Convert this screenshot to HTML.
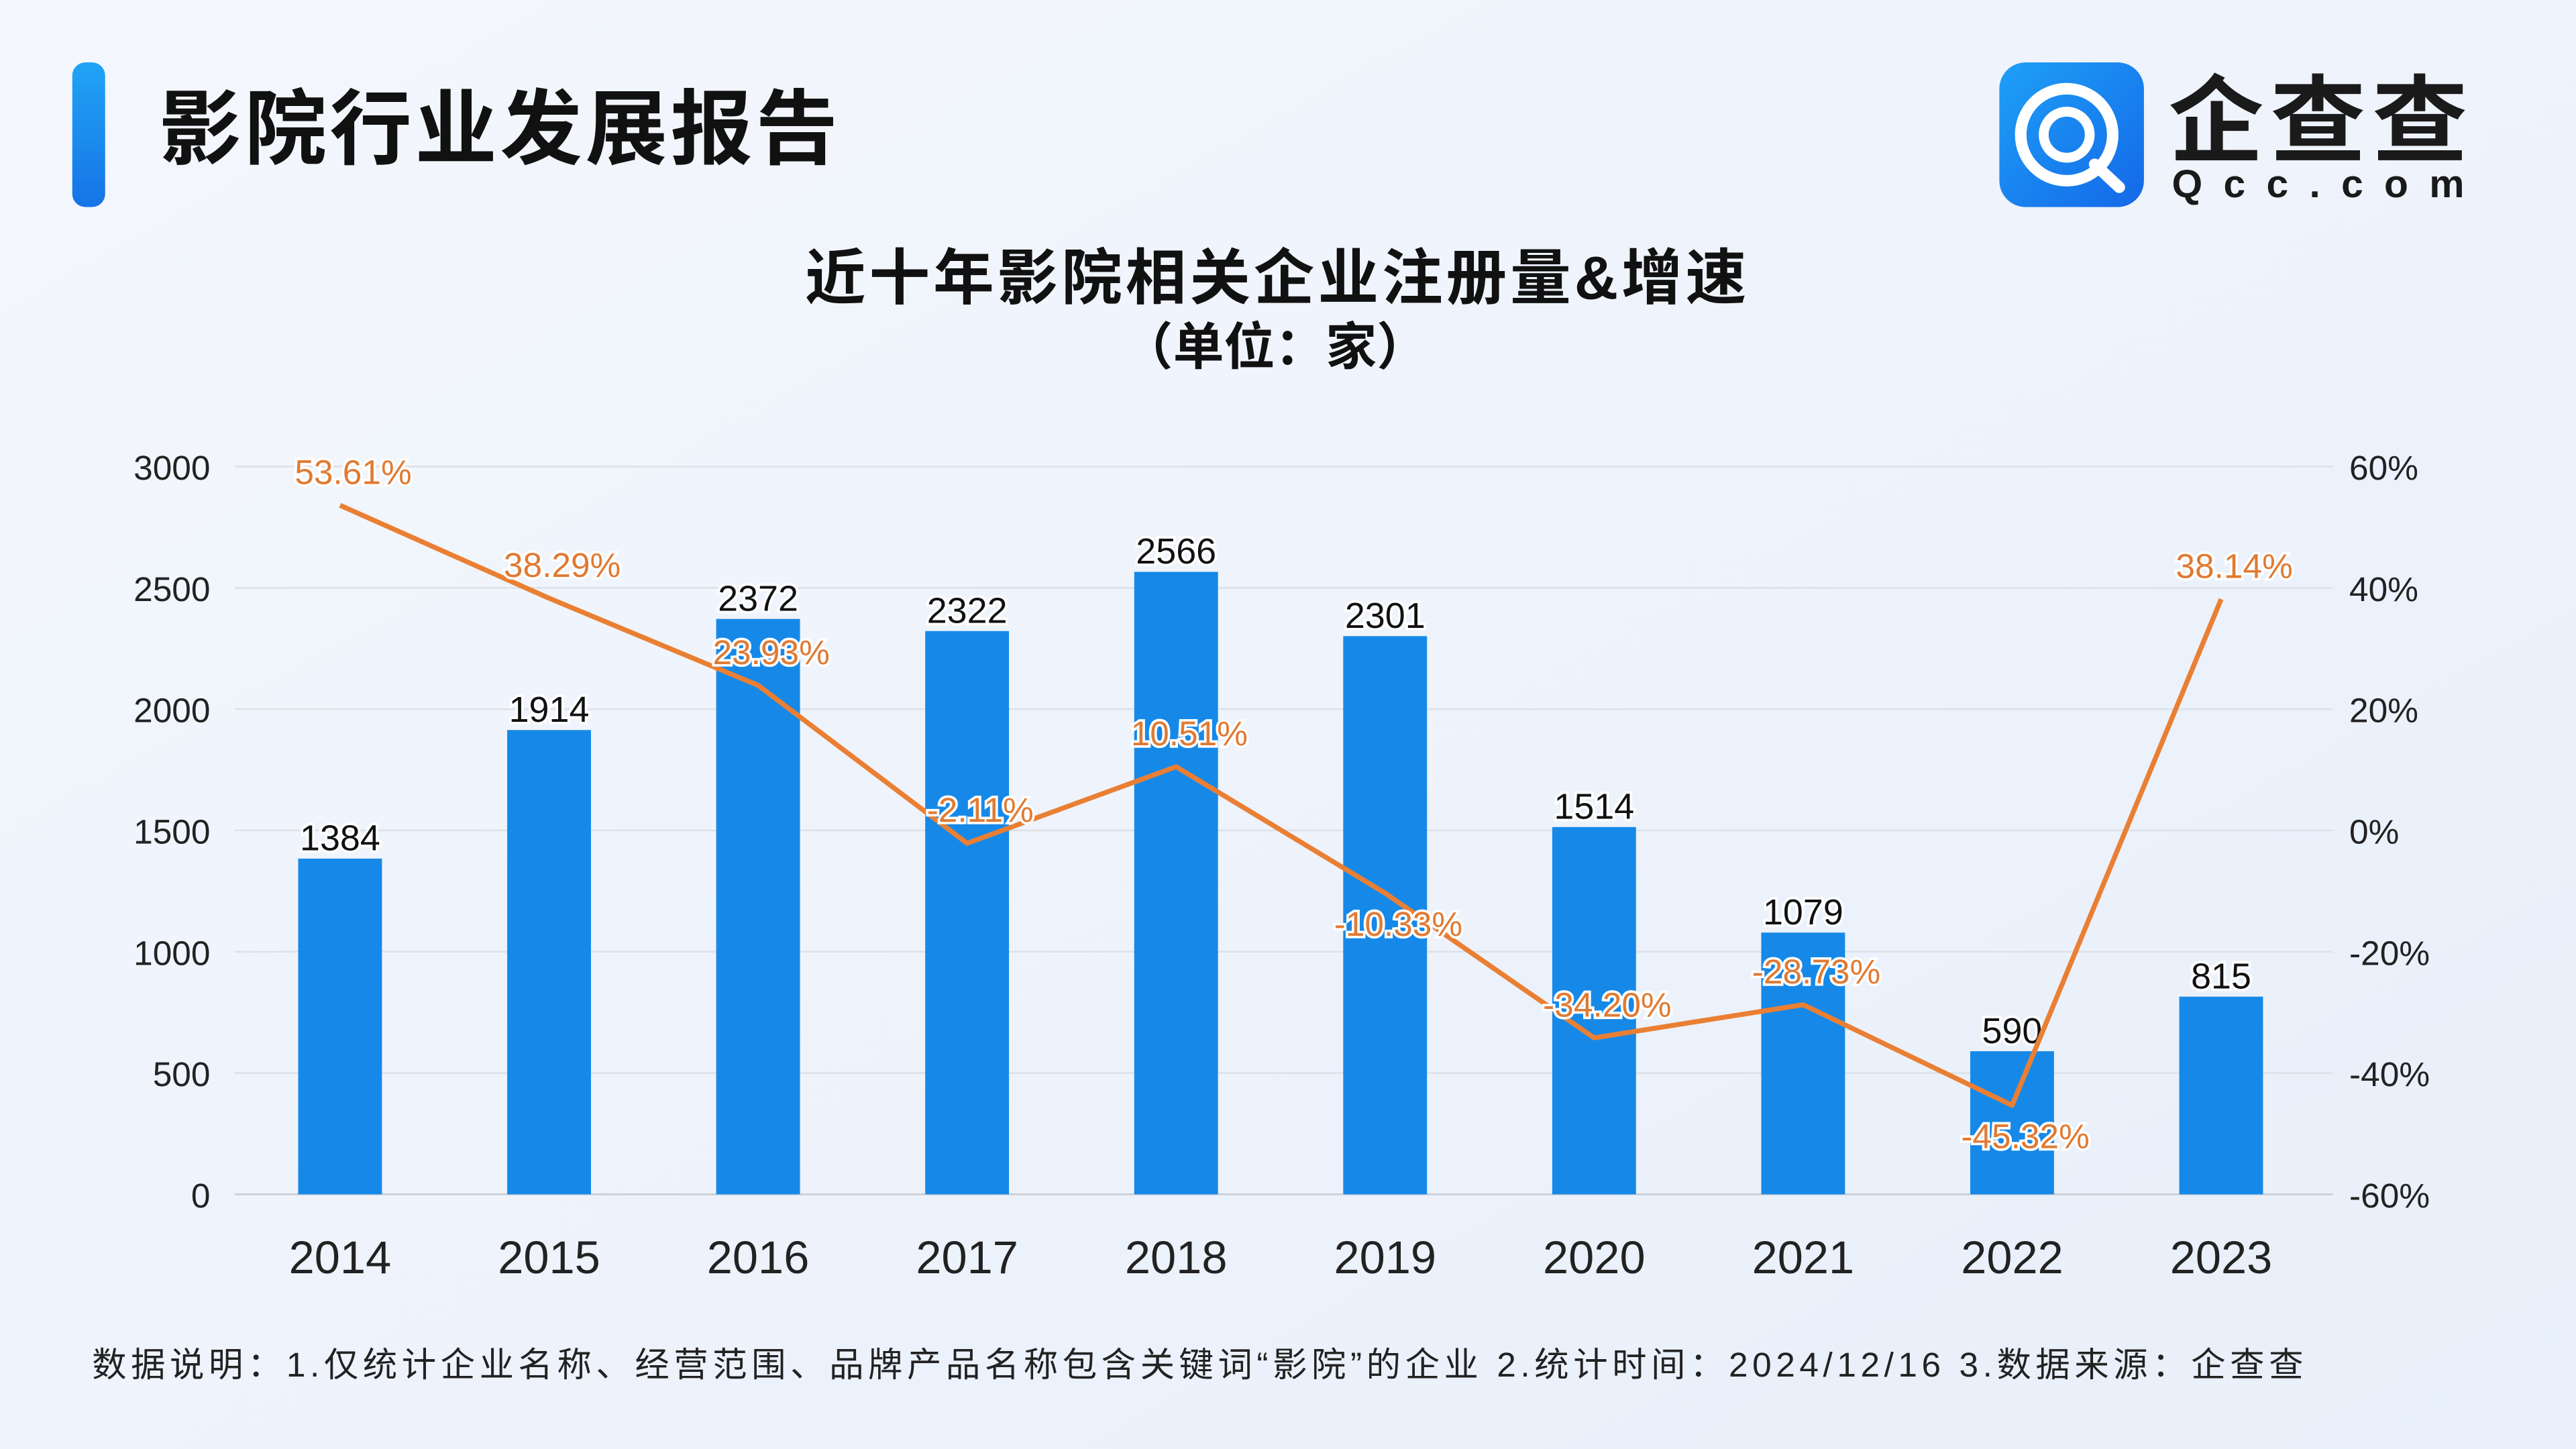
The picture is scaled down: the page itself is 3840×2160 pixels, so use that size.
<!DOCTYPE html>
<html><head><meta charset="utf-8">
<style>
html,body{margin:0;padding:0;width:3840px;height:2160px;overflow:hidden}
body{background:linear-gradient(135deg,#f3f6fc 0%,#eef3fb 50%,#e9f0fa 100%);font-family:"Liberation Sans","Noto Sans CJK SC",sans-serif}
svg{display:block}
</style></head>
<body>
<svg id="chart" width="3840" height="2160" viewBox="0 0 1568 882" xmlns="http://www.w3.org/2000/svg" font-family="Liberation Sans, Noto Sans CJK SC, sans-serif">
  <defs>
    <linearGradient id="bg" x1="0" y1="0" x2="1" y2="1">
      <stop offset="0" stop-color="#f4f7fd"/><stop offset="1" stop-color="#e8effa"/>
    </linearGradient>
    <linearGradient id="acc" x1="0" y1="0" x2="0" y2="1">
      <stop offset="0" stop-color="#21a4f5"/><stop offset="1" stop-color="#1674e6"/>
    </linearGradient>
    <linearGradient id="logo" x1="0" y1="0" x2="1" y2="1">
      <stop offset="0" stop-color="#1ea0f7"/><stop offset="1" stop-color="#1468e8"/>
    </linearGradient>
  </defs>
  <rect width="1568" height="882" fill="url(#bg)"/>
  <rect x="44" y="38" width="20" height="88" rx="8" fill="url(#acc)"/>
  <text x="97" y="96" font-size="50" font-weight="bold" fill="#111" textLength="413">影院行业发展报告</text>
  <g>
    <rect x="1217" y="38" width="88" height="88" rx="16" fill="url(#logo)"/>
    <circle cx="1258" cy="82" r="28" fill="none" stroke="#fff" stroke-width="7"/>
    <circle cx="1258" cy="82" r="14" fill="none" stroke="#fff" stroke-width="6"/>
    <line x1="1275" y1="100" x2="1290" y2="114" stroke="#fff" stroke-width="7" stroke-linecap="round"/>
    <text x="1320" y="94" font-size="58" font-weight="bold" fill="#1a1a1a" textLength="182">企查查</text>
    <text x="1322" y="120" font-size="24" font-weight="bold" fill="#1a1a1a" textLength="178">Qcc.com</text>
  </g>
  <text x="490" y="182" font-size="37" font-weight="bold" fill="#111" textLength="573">近十年影院相关企业注册量&amp;增速</text>
  <text x="776" y="222" text-anchor="middle" font-size="31" font-weight="bold" fill="#111" font-family="Noto Sans CJK SC, sans-serif">（单位：家）</text>
  <g id="plot"></g>
  <text x="56" y="838" font-size="21" fill="#222" textLength="1346">数据说明：1.仅统计企业名称、经营范围、品牌产品名称包含关键词“影院”的企业   2.统计时间：2024/12/16    3.数据来源：企查查</text>
</svg>
<script>
const categories = ["2014","2015","2016","2017","2018","2019","2020","2021","2022","2023"];
const counts = [1384,1914,2372,2322,2566,2301,1514,1079,590,815];
const growth = [53.61,38.29,23.93,-2.11,10.51,-10.33,-34.20,-28.73,-45.32,38.14];
const labelBelow = [false,false,false,false,false,true,false,false,true,false];
const leftTicks = [0,500,1000,1500,2000,2500,3000];
const rightTicks = [-60,-40,-20,0,20,40,60];

const NS = "http://www.w3.org/2000/svg";
const plot = document.getElementById("plot");
const x0 = 143, x1 = 1420, yTop = 284, yBot = 727;
const step = (1352 - 207) / 9;
function xPos(i){ return 207 + i * step; }
function yL(v){ return yBot - (v - 0) / 3000 * (yBot - yTop); }
function yR(v){ return yBot - (v + 60) / 120 * (yBot - yTop); }
function mk(tag, attrs){ const e = document.createElementNS(NS, tag); for (const k in attrs) e.setAttribute(k, attrs[k]); plot.appendChild(e); return e; }

leftTicks.forEach((t, i) => {
  const y = yL(t);
  const g = mk("line", {x1:x0, x2:x1, y1:y, y2:y, stroke: t === 0 ? "#c8ccd2" : "#dde1e6", "stroke-width":1});
  
  
  const l = mk("text", {x:128, y:y+8, "text-anchor":"end", "font-size":21, fill:"#222"});
  l.textContent = t;
  
  
});
rightTicks.forEach(t => {
  const y = yR(t);
  const l = mk("text", {x:1430, y:y+8, "text-anchor":"start", "font-size":21, fill:"#222"});
  l.textContent = t + "%";
  
  
});
categories.forEach((c, i) => {
  const cx = xPos(i), y = yL(counts[i]);
  const b = mk("rect", {x:cx-25.5, y:y, width:51, height:yBot-y, fill:"#1689e8"});
  
  
  const v = mk("text", {x:cx, y:y-5, "text-anchor":"middle", "font-size":22, fill:"#111", stroke:"#fff", "stroke-width":3, "paint-order":"stroke"});
  v.textContent = counts[i];
  
  
  const xl = mk("text", {x:cx, y:775, "text-anchor":"middle", "font-size":28, fill:"#222"});
  xl.textContent = c;
  
  
});
const pts = growth.map((g, i) => xPos(i) + "," + yR(g)).join(" ");
const line = mk("polyline", {points:pts, fill:"none", stroke:"#ea7f33", "stroke-width":3, "stroke-linejoin":"round"});


growth.forEach((g, i) => {
  const dy = labelBelow[i] ? 26 : -13;
  const t = mk("text", {x:xPos(i)+8, y:yR(g)+dy, "text-anchor":"middle", "font-size":21, fill:"#e07a33", stroke:"#fff", "stroke-width":3, "paint-order":"stroke"});
  t.textContent = g.toFixed(2) + "%";
  
  
});
</script>
</body></html>
